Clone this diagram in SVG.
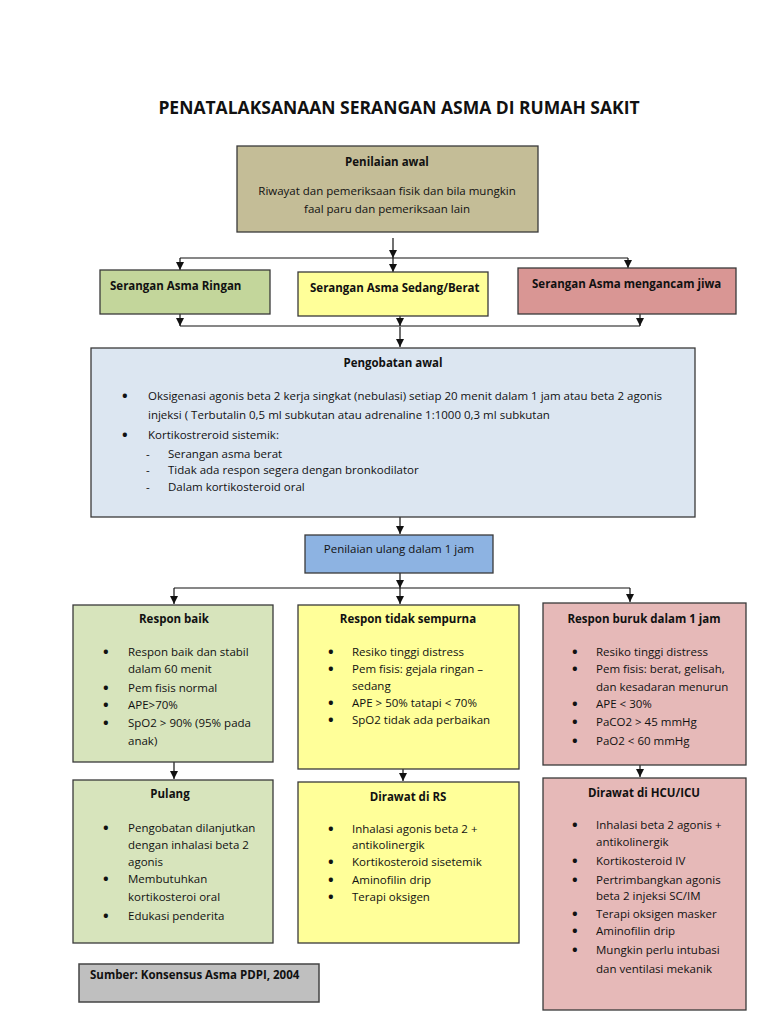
<svg xmlns="http://www.w3.org/2000/svg" width="768" height="1024" viewBox="0 0 768 1024">
<style>
text{font-family:"Open Sans","Liberation Sans",sans-serif;font-size:11.5px;fill:#111}
.t{font-weight:bold}
.c{text-anchor:middle}
.box{stroke:#3a3a3a;stroke-width:1.3}
.ln{stroke:#111;stroke-width:1.2;fill:none}
.b{font-size:15px;font-weight:bold}
</style>
<defs><marker id="a" viewBox="0 0 10 10" refX="10" refY="5" markerWidth="7" markerHeight="7" orient="auto"><path d="M0,0L10,5L0,10z" fill="#111"/></marker></defs>
<rect width="768" height="1024" fill="#fff"/>
<text x="399" y="114" class="c t" style="font-size:17.5px">PENATALAKSANAAN SERANGAN ASMA DI RUMAH SAKIT</text>
<g id="connectors">
<line class="ln" x1="393" y1="238" x2="393" y2="258" marker-end="url(#a)"/>
<path class="ln" d="M180,258H628"/>
<line class="ln" x1="180" y1="258" x2="180" y2="270" marker-end="url(#a)"/>
<line class="ln" x1="393" y1="258" x2="393" y2="272" marker-end="url(#a)"/>
<line class="ln" x1="628" y1="258" x2="628" y2="268" marker-end="url(#a)"/>
<line class="ln" x1="180" y1="314" x2="180" y2="326" marker-end="url(#a)"/>
<line class="ln" x1="400" y1="316" x2="400" y2="326" marker-end="url(#a)"/>
<line class="ln" x1="640" y1="314" x2="640" y2="326" marker-end="url(#a)"/>
<path class="ln" d="M180,326H640"/>
<line class="ln" x1="400" y1="327" x2="400" y2="347" marker-end="url(#a)"/>
<line class="ln" x1="400" y1="517" x2="400" y2="534" marker-end="url(#a)"/>
<line class="ln" x1="400" y1="573" x2="400" y2="588" marker-end="url(#a)"/>
<path class="ln" d="M174,588H630"/>
<line class="ln" x1="174" y1="588" x2="174" y2="604" marker-end="url(#a)"/>
<line class="ln" x1="400" y1="588" x2="400" y2="604" marker-end="url(#a)"/>
<line class="ln" x1="630" y1="588" x2="630" y2="602" marker-end="url(#a)"/>
<line class="ln" x1="174" y1="762" x2="174" y2="779" marker-end="url(#a)"/>
<line class="ln" x1="403" y1="769" x2="403" y2="781" marker-end="url(#a)"/>
<line class="ln" x1="640" y1="765" x2="640" y2="777" marker-end="url(#a)"/>
</g>
<g id="penilaian-awal">
<rect class="box" x="237" y="146" width="301" height="86" fill="#c4bd97"/>
<text x="387" y="166" class="c t">Penilaian awal</text>
<text x="387" y="195" class="c">Riwayat dan pemeriksaan fisik dan bila mungkin</text>
<text x="387" y="213" class="c">faal paru dan pemeriksaan lain</text>
</g>
<g id="ringan"><rect class="box" x="100" y="270" width="170" height="44" fill="#c3d69b"/><text x="110" y="290" class="t">Serangan Asma Ringan</text></g>
<g id="sedang"><rect class="box" x="298" y="272" width="190" height="44" fill="#ffff99"/><text x="310" y="292" class="t">Serangan Asma Sedang/Berat</text></g>
<g id="jiwa"><rect class="box" x="518" y="268" width="218" height="46" fill="#d99694"/><text x="532" y="288" class="t">Serangan Asma mengancam jiwa</text></g>
<g id="pengobatan-awal">
<rect class="box" x="91" y="348" width="604" height="169" fill="#dce6f1"/>
<text x="393" y="367" class="c t">Pengobatan awal</text>
<text x="122" y="401" class="b">•</text><text x="148" y="400">Oksigenasi agonis beta 2 kerja singkat (nebulasi) setiap 20 menit dalam 1 jam atau beta 2 agonis</text>
<text x="148" y="419">injeksi ( Terbutalin 0,5 ml subkutan atau adrenaline 1:1000 0,3 ml subkutan</text>
<text x="122" y="440" class="b">•</text><text x="148" y="439">Kortikostreroid sistemik:</text>
<text x="146" y="458">-</text><text x="168" y="458">Serangan asma berat</text>
<text x="146" y="474">-</text><text x="168" y="474">Tidak ada respon segera dengan bronkodilator</text>
<text x="146" y="491">-</text><text x="168" y="491">Dalam kortikosteroid oral</text>
</g>
<g id="penilaian-ulang"><rect class="box" x="305" y="535" width="188" height="38" fill="#8db3e2"/><text x="399" y="553" class="c">Penilaian ulang dalam 1 jam</text></g>
<g id="respon-baik">
<rect class="box" x="73" y="605" width="200" height="157" fill="#d7e4bc"/>
<text x="174" y="623" class="c t">Respon baik</text>
<text x="103" y="657" class="b">•</text><text x="128" y="656">Respon baik dan stabil</text>
<text x="128" y="673">dalam 60 menit</text>
<text x="103" y="693" class="b">•</text><text x="128" y="692">Pem fisis normal</text>
<text x="103" y="710" class="b">•</text><text x="128" y="709">APE&gt;70%</text>
<text x="103" y="728" class="b">•</text><text x="128" y="727">SpO2 &gt; 90% (95% pada</text>
<text x="128" y="745">anak)</text>
</g>
<g id="respon-tidak">
<rect class="box" x="298" y="605" width="221" height="164" fill="#ffff99"/>
<text x="408" y="623" class="c t">Respon tidak sempurna</text>
<text x="328" y="657" class="b">•</text><text x="352" y="656">Resiko tinggi distress</text>
<text x="328" y="674" class="b">•</text><text x="352" y="673">Pem fisis: gejala ringan –</text>
<text x="352" y="690">sedang</text>
<text x="328" y="708" class="b">•</text><text x="352" y="707">APE &gt; 50% tatapi &lt; 70%</text>
<text x="328" y="725" class="b">•</text><text x="352" y="724">SpO2 tidak ada perbaikan</text>
</g>
<g id="respon-buruk">
<rect class="box" x="543" y="603" width="203" height="162" fill="#e6b9b8"/>
<text x="644" y="623" class="c t">Respon buruk dalam 1 jam</text>
<text x="572" y="657" class="b">•</text><text x="596" y="656">Resiko tinggi distress</text>
<text x="572" y="674" class="b">•</text><text x="596" y="673">Pem fisis: berat, gelisah,</text>
<text x="596" y="691">dan kesadaran menurun</text>
<text x="572" y="709" class="b">•</text><text x="596" y="708">APE &lt; 30%</text>
<text x="572" y="727" class="b">•</text><text x="596" y="726">PaCO2 &gt; 45 mmHg</text>
<text x="572" y="746" class="b">•</text><text x="596" y="745">PaO2 &lt; 60 mmHg</text>
</g>
<g id="pulang">
<rect class="box" x="73" y="780" width="200" height="163" fill="#d7e4bc"/>
<text x="170" y="798" class="c t">Pulang</text>
<text x="103" y="833" class="b">•</text><text x="128" y="832">Pengobatan dilanjutkan</text>
<text x="128" y="849">dengan inhalasi beta 2</text>
<text x="128" y="866">agonis</text>
<text x="103" y="884" class="b">•</text><text x="128" y="883">Membutuhkan</text>
<text x="128" y="901">kortikosteroi oral</text>
<text x="103" y="921" class="b">•</text><text x="128" y="920">Edukasi penderita</text>
</g>
<g id="dirawat-rs">
<rect class="box" x="298" y="782" width="221" height="161" fill="#ffff99"/>
<text x="408" y="801" class="c t">Dirawat di RS</text>
<text x="328" y="834" class="b">•</text><text x="352" y="833">Inhalasi agonis beta 2 +</text>
<text x="352" y="849">antikolinergik</text>
<text x="328" y="867" class="b">•</text><text x="352" y="866">Kortikosteroid sisetemik</text>
<text x="328" y="885" class="b">•</text><text x="352" y="884">Aminofilin drip</text>
<text x="328" y="902" class="b">•</text><text x="352" y="901">Terapi oksigen</text>
</g>
<g id="dirawat-icu">
<rect class="box" x="543" y="778" width="203" height="232" fill="#e6b9b8"/>
<text x="644" y="797" class="c t">Dirawat di HCU/ICU</text>
<text x="572" y="830" class="b">•</text><text x="596" y="829">Inhalasi beta 2 agonis +</text>
<text x="596" y="846">antikolinergik</text>
<text x="572" y="866" class="b">•</text><text x="596" y="865">Kortikosteroid IV</text>
<text x="572" y="885" class="b">•</text><text x="596" y="884">Pertrimbangkan agonis</text>
<text x="596" y="900">beta 2 injeksi SC/IM</text>
<text x="572" y="919" class="b">•</text><text x="596" y="918">Terapi oksigen  masker</text>
<text x="572" y="936" class="b">•</text><text x="596" y="935">Aminofilin drip</text>
<text x="572" y="955" class="b">•</text><text x="596" y="954">Mungkin perlu intubasi</text>
<text x="596" y="973">dan ventilasi mekanik</text>
</g>
<g id="sumber"><rect x="79" y="964" width="240" height="38" fill="#bfbfbf" stroke="#444" stroke-width="1.5"/><text x="90" y="979" class="t">Sumber: Konsensus Asma PDPI, 2004</text></g>
</svg>
